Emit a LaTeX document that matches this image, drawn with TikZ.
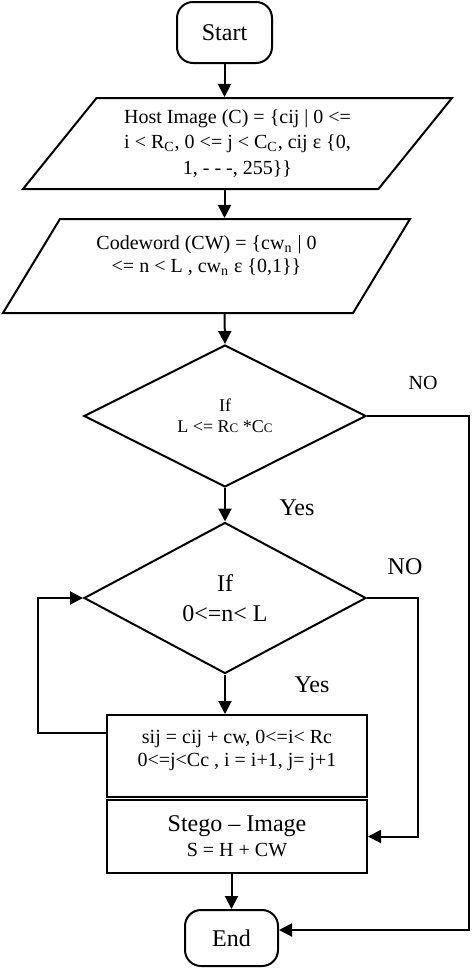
\documentclass[tikz,border=0pt]{standalone}
\usepackage{fontspec}
\setmainfont{Liberation Serif}
\usetikzlibrary{shapes.geometric,arrows.meta}

\newcommand{\smc}[1]{{\fontsize{6.5}{8}\selectfont #1}}

\tikzset{
  flow/.style={-{Triangle[length=6.5pt,width=6.5pt]}, line width=1pt},
  terminal/.style={draw, line width=1pt, rounded corners=8pt, font=\fontsize{12}{14}\selectfont},
  io/.style={draw, line width=1pt, trapezium, trapezium stretches body, inner sep=2pt, align=center},
  decision/.style={draw, line width=1pt, diamond, inner sep=0pt, align=center},
  block/.style={draw, line width=1pt, rectangle, align=center},
  tag/.style={font=\fontsize{12}{14}\selectfont}
}

\begin{document}
\begin{tikzpicture}[x=0.5pt,y=-0.5pt]
\useasboundingbox (0,0) rectangle (474,969);

% shapes
\node[terminal, minimum width=47.5pt, minimum height=30.5pt] (start) at (224.5,32.5) {Start};
\node[io, trapezium left angle=46, trapezium right angle=134, minimum width=214.5pt, minimum height=45.5pt,
      font=\fontsize{10}{12.8}\selectfont] (host) at (237.5,143.5)
      {Host Image (C) = \{cij | 0 <=\\ i < R\textsubscript{C}, 0 <= j < C\textsubscript{C}, cij ε \{0,\\ 1, - - -, 255\}\}};
\node[io, trapezium left angle=50, trapezium right angle=130, minimum width=203.5pt, minimum height=47pt,
      font=\fontsize{10}{11.5}\selectfont] (code) at (206.5,266)
      {Codeword (CW) = \{cw\textsubscript{n} | 0\\ <= n < L , cw\textsubscript{n} ε \{0,1\}\}\\ ~};
\node[decision, minimum width=141pt, minimum height=71pt, font=\fontsize{9}{10.5}\selectfont] (cond1) at (225,416)
      {If\\ L <= R\smc{C} *C\smc{C}};
\node[decision, minimum width=141pt, minimum height=75.5pt, font=\fontsize{12}{15}\selectfont] (cond2) at (225,598)
      {If\\ 0<=n< L};
\node[block, minimum width=130pt, minimum height=41pt, font=\fontsize{10}{11.5}\selectfont] (embed) at (237,756)
      {sij = cij + cw, 0<=i< Rc\\ 0<=j<Cc , i = i+1, j= j+1\\[-4pt] ~};
\node[block, minimum width=130pt, minimum height=36.5pt, font=\fontsize{12}{12.5}\selectfont] (stego) at (237,836.5)
      {Stego – Image\\ {\fontsize{10}{12.5}\selectfont S = H + CW}};
\node[terminal, minimum width=46.5pt, minimum height=28pt] (stop) at (231.5,938) {End};

% labels
\node[font=\fontsize{10}{12}\selectfont] (no1) at (423,383) {NO};
\node[tag] (yes1) at (297,508) {Yes};
\node[tag] (no2) at (405,567) {NO};
\node[tag] (yes2) at (312,685) {Yes};

% main flow
\draw[flow] (start.south) -- (start.south |- host.north);
\draw[flow] (start.south |- host.south) -- (start.south |- code.north);
\draw[flow] (start.south |- code.south) -- (cond1.north);
\draw[flow] (cond1.south) -- (cond2.north);
\draw[flow] (cond2.south) -- (cond2.south |- embed.north);
\draw[flow] (stop.north |- stego.south) -- (stop.north);

% branches
\coordinate (right1) at (469,416);
\coordinate (right2) at (418,598);
\coordinate (left2) at (38,733);
\draw[flow] (cond1.east) -- (right1) |- ([yshift=4pt]stop.east);
\draw[flow] (cond2.east) -- (right2) |- (stego.east);
\draw[flow] (left2 -| embed.west) -- (left2) |- (cond2.west);
\end{tikzpicture}
\end{document}
